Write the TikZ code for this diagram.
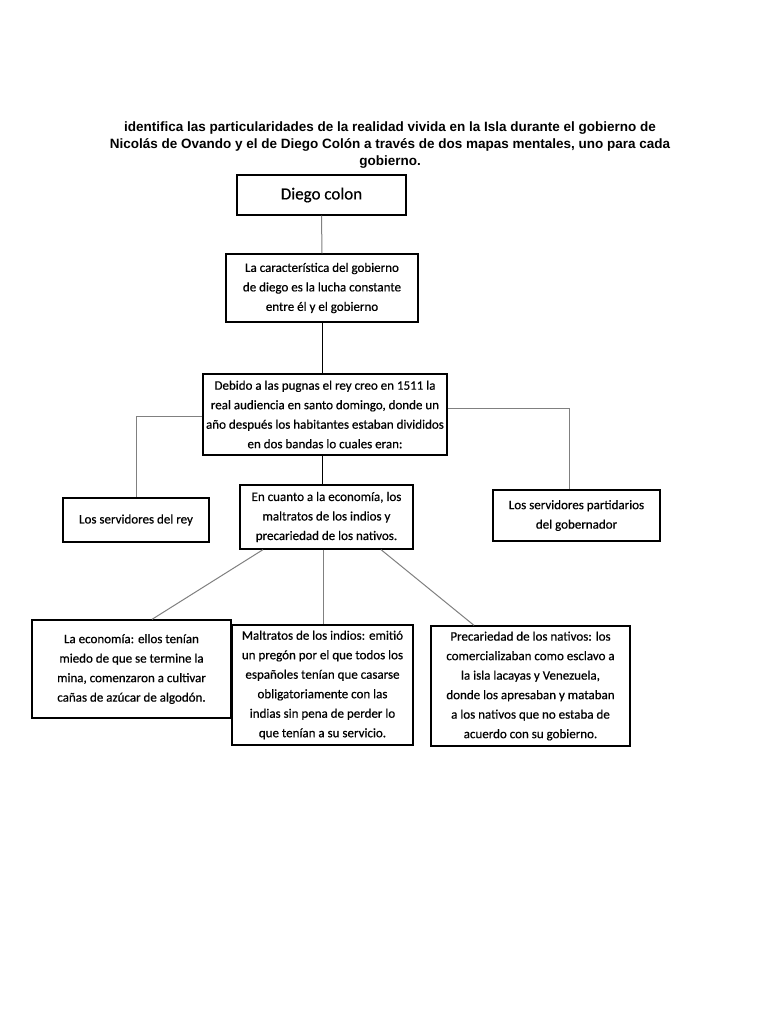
\documentclass[tikz,border=0pt]{standalone}
\usepackage{fontspec}
\setmainfont{Carlito}[FakeBold=0.5]
\newfontfamily\titlefont{Liberation Sans}
\begin{document}
\begin{tikzpicture}[x=1pt,y=-1pt,
  box/.style={draw=black,line width=1.3pt,align=center,inner sep=0pt,font=\fontsize{13}{19.5}\selectfont},
  conn/.style={draw=black!50,line width=1pt},
  connb/.style={draw=black,line width=1pt}]
\useasboundingbox[fill=white] (0,0) rectangle (768,1024);
\node[align=center,font=\titlefont\bfseries\fontsize{13.5}{17}\selectfont] (title) at (390,145)
 {identifica las particularidades de la realidad vivida en la Isla durante el gobierno de\\
 Nicolás de Ovando y el de Diego Colón a través de dos mapas mentales, uno para cada\\
 gobierno.};
\node[box,minimum width=169,minimum height=40,font=\fontsize{17}{20}\selectfont] (dc) at (321.5,195) {Diego colon};
\node[box,minimum width=192,minimum height=68] (car) at (322,288) {La característica del gobierno\\de diego es la lucha constante\\entre él y el gobierno};
\node[box,minimum width=244,minimum height=81] (deb) at (325,414.5) {Debido a las pugnas el rey creo en 1511 la\\real audiencia en santo domingo, donde un\\año después los habitantes estaban divididos\\en dos bandas lo cuales eran:};
\node[box,minimum width=146,minimum height=44] (rey) at (136,520) {Los servidores del rey};
\node[box,minimum width=173,minimum height=64] (ec) at (326.5,517) {En cuanto a la economía, los\\maltratos de los indios y\\precariedad de los nativos.};
\node[box,minimum width=167,minimum height=51] (par) at (576.5,515.5) {Los servidores partidarios\\del gobernador};
\node[box,minimum width=199,minimum height=98] (eco) at (131.5,669) {La economía: ellos tenían\\miedo de que se termine la\\mina, comenzaron a cultivar\\cañas de azúcar de algodón.};
\node[box,minimum width=181,minimum height=120] (mal) at (322.5,685) {Maltratos de los indios: emitió\\un pregón por el que todos los\\españoles tenían que casarse\\obligatoriamente con las\\indias sin pena de perder lo\\que tenían a su servicio.};
\node[box,minimum width=199,minimum height=120] (pre) at (530.5,686) {Precariedad de los nativos: los\\comercializaban como esclavo a\\la isla lacayas y Venezuela,\\donde los apresaban y mataban\\a los nativos que no estaba de\\acuerdo con su gobierno.};
\draw[conn] (dc.south) -- (car.north);
\draw[connb] (car.south) -- (car.south |- deb.north);
\draw[conn] ([yshift=-1.5]deb.west) -| (rey.north);
\draw[conn] ([yshift=6.5]deb.east) -| ([xshift=-7.5]par.north);
\draw[connb] ([xshift=-3]deb.south) -- ([xshift=-3]deb.south |- ec.north);
\draw[conn] ([xshift=-63.5]ec.south) -- ([xshift=20.5]eco.north);
\draw[conn] ([xshift=-3.5]ec.south) -- ([xshift=-3.5]ec.south |- mal.north);
\draw[conn] ([xshift=54.5]ec.south) -- ([xshift=-56.5]pre.north);
\end{tikzpicture}
\end{document}
